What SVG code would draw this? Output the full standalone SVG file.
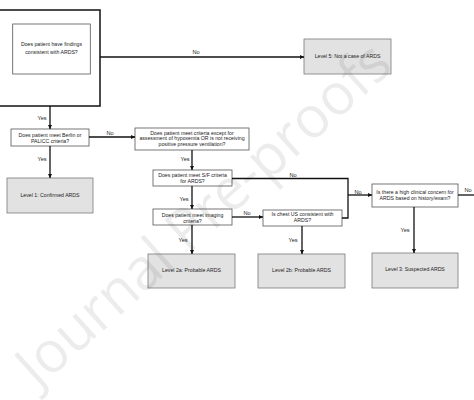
<svg xmlns="http://www.w3.org/2000/svg" width="474" height="400" viewBox="0 0 474 400">
<defs>
<marker id="arr" viewBox="0 0 10 10" refX="10" refY="5" markerWidth="4" markerHeight="4" markerUnits="userSpaceOnUse" orient="auto">
<path d="M0,0 L10,5 L0,10 z" fill="#111"/>
</marker>
<style>
.q{fill:#fff;stroke:#555;stroke-width:0.8}
.lv{fill:#e2e2e2;stroke:#7a7a7a;stroke-width:0.8}
.t{font-family:"Liberation Sans",Arial,sans-serif;font-size:5.2px;fill:#222;text-anchor:middle}
.lb{font-family:"Liberation Sans",Arial,sans-serif;font-size:5.6px;fill:#222;text-anchor:middle}
.c{fill:none;stroke:#111;stroke-width:1.3}
.wm{font-family:"Open Sans","Liberation Sans",sans-serif;font-size:58px;fill:#000;fill-opacity:0.075;text-anchor:middle}
</style>
</defs>
<rect width="474" height="400" fill="#fff"/>

<g id="n-findings-outer">
<rect x="-2" y="10" width="102" height="96" fill="#fff" stroke="#111" stroke-width="1.5"/>
</g>
<g id="n-findings">
<rect class="q" x="12.7" y="24" width="77.6" height="50"/>
<text class="t" x="51.5" y="45.8">Does patient have findings</text>
<text class="t" x="51.5" y="53.8">consistent with ARDS?</text>
</g>
<g id="n-level5">
<rect class="lv" x="304" y="39" width="87" height="35"/>
<text class="t" x="347.5" y="57.8">Level 5: Not a case of ARDS</text>
</g>
<g id="n-berlin">
<rect class="q" x="11" y="129" width="78" height="17"/>
<text class="t" x="50" y="136.8">Does patient meet Berlin or</text>
<text class="t" x="50" y="142.8">PALICC criteria?</text>
</g>
<g id="n-criteria">
<rect class="q" x="135" y="128" width="114" height="22"/>
<text class="t" x="192" y="134.5">Does patient meet criteria except for</text>
<text class="t" x="192" y="140.1">assessment of hypoxemia OR is not receiving</text>
<text class="t" x="192" y="145.8">positive pressure ventilation?</text>
</g>
<g id="n-level1">
<rect class="lv" x="7" y="178" width="86" height="35"/>
<text class="t" x="50" y="196.8">Level 1: Confirmed ARDS</text>
</g>
<g id="n-sf">
<rect class="q" x="153" y="170" width="79" height="16"/>
<text class="t" x="192.5" y="176.5">Does patient meet S/F criteria</text>
<text class="t" x="192.5" y="182.5">for ARDS?</text>
</g>
<g id="n-imaging">
<rect class="q" x="153" y="209" width="79" height="16"/>
<text class="t" x="192.5" y="217.3">Does patient meet imaging</text>
<text class="t" x="192.5" y="223.3">criteria?</text>
</g>
<g id="n-chestus">
<rect class="q" x="263" y="210" width="79" height="16"/>
<text class="t" x="302.5" y="216">Is chest US consistent with</text>
<text class="t" x="302.5" y="222.4">ARDS?</text>
</g>
<g id="n-highconcern">
<rect class="q" x="372" y="184" width="86" height="23"/>
<text class="t" x="415" y="193.5">Is there a high clinical concern for</text>
<text class="t" x="415" y="200">ARDS based on history/exam?</text>
</g>
<g id="n-level2a">
<rect class="lv" x="148" y="254" width="87" height="34"/>
<text class="t" x="191.5" y="271.8">Level 2a: Probable ARDS</text>
</g>
<g id="n-level2b">
<rect class="lv" x="258" y="254" width="87" height="34"/>
<text class="t" x="301.5" y="271.8">Level 2b: Probable ARDS</text>
</g>
<g id="n-level3">
<rect class="lv" x="372" y="253" width="86" height="35"/>
<text class="t" x="415" y="270.8">Level 3: Suspected ARDS</text>
</g>

<g id="connectors">
<path class="c" d="M100,57 H304" marker-end="url(#arr)"/>
<path class="c" d="M50,106 V129" marker-end="url(#arr)"/>
<path class="c" d="M89,137 H135" marker-end="url(#arr)"/>
<path class="c" d="M50,146 V178" marker-end="url(#arr)"/>
<path class="c" d="M192,150 V170" marker-end="url(#arr)"/>
<path class="c" d="M192,186 V209" marker-end="url(#arr)"/>
<path class="c" d="M232,217 H263" marker-end="url(#arr)"/>
<path class="c" d="M192,225 V254" marker-end="url(#arr)"/>
<path class="c" d="M302,226 V254" marker-end="url(#arr)"/>
<path class="c" d="M232,178.5 H348 V218 H342"/>
<path class="c" d="M348,195 H372" marker-end="url(#arr)"/>
<path class="c" d="M458,195 H476"/>
<path class="c" d="M414,207 V253" marker-end="url(#arr)"/>
<text class="lb" x="196" y="54">No</text>
<text class="lb" x="42" y="120">Yes</text>
<text class="lb" x="110" y="135">No</text>
<text class="lb" x="42" y="161">Yes</text>
<text class="lb" x="185" y="161">Yes</text>
<text class="lb" x="293" y="177">No</text>
<text class="lb" x="184" y="201">Yes</text>
<text class="lb" x="247" y="215">No</text>
<text class="lb" x="358" y="194">No</text>
<text class="lb" x="468" y="192">No</text>
<text class="lb" x="183" y="242">Yes</text>
<text class="lb" x="293" y="242">Yes</text>
<text class="lb" x="405" y="232">Yes</text>
</g>

<text class="wm" transform="translate(203,214) rotate(-42)" y="20" textLength="480" lengthAdjust="spacingAndGlyphs">Journal Pre-proofs</text>
</svg>
